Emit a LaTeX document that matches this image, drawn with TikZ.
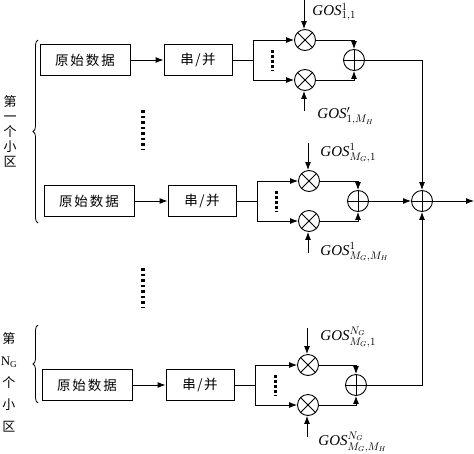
\documentclass[tikz,border=0pt]{standalone}
\usepackage{fontspec}
\setmainfont{Liberation Serif}
\newfontfamily\cjk{Noto Sans CJK SC}
\usetikzlibrary{arrows.meta,decorations.pathreplacing}
\tikzset{
  blk/.style={draw, minimum height=31pt, inner sep=0pt, font=\cjk\fontsize{13.5}{13.5}\selectfont},
  circ/.style={circle, draw, minimum size=21pt, inner sep=0pt},
  arr/.style={-{Latex[length=8pt,width=6pt]}},
  smalldots/.style={line width=3pt, dash pattern=on 2.5pt off 2.5pt},
  bigdots/.style={line width=3.2pt, dash pattern=on 2.5pt off 3pt},
  gos/.style={anchor=west, inner sep=0pt, font=\fontsize{15}{15}\selectfont},
  side/.style={align=center, inner sep=0pt, font=\cjk\fontsize{13}{15}\selectfont},
}
\begin{document}
\begin{tikzpicture}[x=1pt, y=-1pt, line width=0.9pt]
\useasboundingbox (0,0) rectangle (474,453);

\foreach \i/\yc/\bxa/\bxb/\sx/\mx/\ax/\ttop/\tbot in
  {1/60/85/198/253/305/354/0/111,
   2/201/89/202/257/309/358/143/253,
   3/385/87/200/255/308/356/328/437}{
  \node[blk, minimum width=90pt] (d\i) at (\bxa,\yc) {原\kern2pt 始\kern2pt 数\kern2pt 据};
  \node[blk, minimum width=68pt] (s\i) at (\bxb,\yc) {串\kern1.5pt/\kern1.5pt 并};
  \node[circ] (ma\i) at (\mx,\yc-20) {};
  \node[circ] (mb\i) at (\mx,\yc+20) {};
  \node[circ] (a\i) at (\ax,\yc) {};
  \draw (ma\i.north west) -- (ma\i.south east) (ma\i.north east) -- (ma\i.south west);
  \draw (mb\i.north west) -- (mb\i.south east) (mb\i.north east) -- (mb\i.south west);
  \draw (a\i.north) -- (a\i.south) (a\i.west) -- (a\i.east);
  \coordinate (sp\i) at (\sx,\yc);
  \coordinate (spt\i) at (\sx,\yc-20);
  \coordinate (spb\i) at (\sx,\yc+20);
  \coordinate (ta\i) at (\mx-1,\ttop);
  \coordinate (tb\i) at (\mx-1,\tbot);
  \draw[arr] (d\i) -- (s\i);
  \draw (s\i.east) -- (sp\i);
  \draw (spt\i) -- (spb\i);
  \draw[arr] (spt\i) -- (ma\i.west);
  \draw[arr] (spb\i) -- (mb\i.west);
  \draw[arr] (ma\i.east) -| (a\i.north);
  \draw[arr] (mb\i.east) -| (a\i.south);
  \draw[arr] (ta\i) -- (ma\i.north -| ta\i);
  \draw[arr] (tb\i) -- (mb\i.south -| tb\i);
  \draw[smalldots] (\mx-33,\yc-10) -- (\mx-33,\yc+11);
}

\node[circ] (F) at (422,201) {};
\draw (F.north) -- (F.south) (F.west) -- (F.east);
\coordinate (out) at (474,201);
\draw[arr] (a1.east) -| (F.north);
\draw[arr] (a2.east) -- (F.west);
\draw[arr] (a3.east) -| (F.south);
\draw[arr] (F.east) -- (out);

% labels
\node[gos] (g1) at (312,12) {\textit{GOS}$^{1}_{1,1}$};
\node[gos] (g2) at (317,116) {\textit{GOS}$^{\prime}_{1,M_H}$};
\node[gos] (g3) at (320,153) {\textit{GOS}$^{1}_{M_G,1}$};
\node[gos] (g4) at (320,252) {\textit{GOS}$^{1}_{M_G,M_H}$};
\node[gos] (g5) at (320,337) {\textit{GOS}$^{N_G}_{M_G,1}$};
\node[gos] (g6) at (318,442) {\textit{GOS}$^{N_G}_{M_G,M_H}$};

% vertical dots between cells
\draw[bigdots] (143,110) -- (143,150);
\draw[bigdots] (143,268) -- (143,307);

% braces
\draw[line width=0.8pt, decorate, decoration={brace, amplitude=5pt}] (38,223) -- (38,40);
\draw[line width=0.8pt, decorate, decoration={brace, amplitude=5pt}] (38,403) -- (38,325);

\node[side] (c1) at (10,131) {第\\一\\个\\小\\区};
\node[side, font=\cjk\fontsize{13}{22}\selectfont] (c3) at (9,382) {第\\{\fontspec{Liberation Serif}N$_{\mathrm{G}}$}\\个\\小\\区};
\end{tikzpicture}
\end{document}
